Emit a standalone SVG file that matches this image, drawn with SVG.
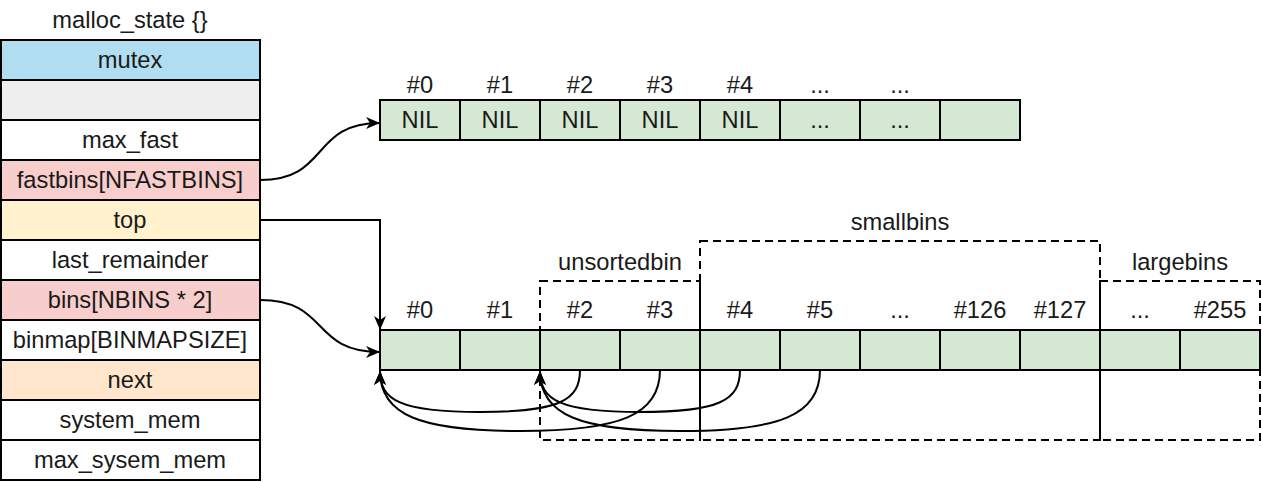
<svg xmlns="http://www.w3.org/2000/svg" width="1262" height="482" viewBox="0 0 1262 482">
<style>
text{font-family:"Liberation Sans",Arial,sans-serif;font-size:23.7px;fill:#1a1a1a;text-anchor:middle;dominant-baseline:central}
.row{stroke:#000;stroke-width:2}
.cell{fill:#d5e8d4;stroke:#000;stroke-width:2}
.dash{fill:none;stroke:#000;stroke-width:2;stroke-dasharray:8 5}
.edge{fill:none;stroke:#000;stroke-width:2}
</style>
<defs>
<marker id="arr" markerUnits="userSpaceOnUse" markerWidth="16" markerHeight="14" refX="14" refY="6" orient="auto">
<path d="M0,0 L14,6 L0,12 L4,6 Z" fill="#000"/>
</marker>
</defs>
<rect width="1262" height="482" fill="#fff"/>
<text x="130" y="20">malloc_state {}</text>
<g id="malloc_state">
<g id="mutex"><rect class="row" x="1" y="40" width="259" height="40" fill="#b1ddf0"/><text x="130" y="60">mutex</text></g>
<g id="blank"><rect class="row" x="1" y="80" width="259" height="40" fill="#eeeeee"/></g>
<g id="max_fast"><rect class="row" x="1" y="120" width="259" height="40" fill="#fff"/><text x="130" y="140">max_fast</text></g>
<g id="fastbins"><rect class="row" x="1" y="160" width="259" height="40" fill="#f8cecc"/><text x="130" y="180">fastbins[NFASTBINS]</text></g>
<g id="top"><rect class="row" x="1" y="200" width="259" height="40" fill="#fff2cc"/><text x="130" y="220">top</text></g>
<g id="last_remainder"><rect class="row" x="1" y="240" width="259" height="40" fill="#fff"/><text x="130" y="260">last_remainder</text></g>
<g id="bins"><rect class="row" x="1" y="280" width="259" height="40" fill="#f8cecc"/><text x="130" y="300">bins[NBINS * 2]</text></g>
<g id="binmap"><rect class="row" x="1" y="320" width="259" height="40" fill="#fff"/><text x="130" y="340">binmap[BINMAPSIZE]</text></g>
<g id="next"><rect class="row" x="1" y="360" width="259" height="40" fill="#ffe6cc"/><text x="130" y="380">next</text></g>
<g id="system_mem"><rect class="row" x="1" y="400" width="259" height="40" fill="#fff"/><text x="130" y="420">system_mem</text></g>
<g id="max_sysem_mem"><rect class="row" x="1" y="440" width="259" height="40" fill="#fff"/><text x="130" y="460">max_sysem_mem</text></g>
</g>
<g id="fastbins_array">
<rect class="cell" x="380" y="100" width="80" height="40"/><text x="420" y="120">NIL</text>
<rect class="cell" x="460" y="100" width="80" height="40"/><text x="500" y="120">NIL</text>
<rect class="cell" x="540" y="100" width="80" height="40"/><text x="580" y="120">NIL</text>
<rect class="cell" x="620" y="100" width="80" height="40"/><text x="660" y="120">NIL</text>
<rect class="cell" x="700" y="100" width="80" height="40"/><text x="740" y="120">NIL</text>
<rect class="cell" x="780" y="100" width="80" height="40"/><text x="820" y="120">...</text>
<rect class="cell" x="860" y="100" width="80" height="40"/><text x="900" y="120">...</text>
<rect class="cell" x="940" y="100" width="80" height="40"/>
<text x="420" y="85">#0</text><text x="500" y="85">#1</text><text x="580" y="85">#2</text><text x="660" y="85">#3</text><text x="740" y="85">#4</text><text x="820" y="85">...</text><text x="900" y="85">...</text>
</g>
<g id="groups">
<rect class="dash" x="700" y="241" width="400" height="199"/>
<rect class="dash" x="540" y="281" width="160" height="159"/>
<rect class="dash" x="1100" y="281" width="160" height="159"/>
<line x1="700" y1="281" x2="700" y2="440" stroke="#000" stroke-width="2"/>
<line x1="1100" y1="281" x2="1100" y2="440" stroke="#000" stroke-width="2"/>
<text x="900" y="222">smallbins</text>
<text x="620" y="262">unsortedbin</text>
<text x="1180" y="262">largebins</text>
</g>
<g id="bins_array">
<rect class="cell" x="380" y="330" width="80" height="40"/>
<rect class="cell" x="460" y="330" width="80" height="40"/>
<rect class="cell" x="540" y="330" width="80" height="40"/>
<rect class="cell" x="620" y="330" width="80" height="40"/>
<rect class="cell" x="700" y="330" width="80" height="40"/>
<rect class="cell" x="780" y="330" width="80" height="40"/>
<rect class="cell" x="860" y="330" width="80" height="40"/>
<rect class="cell" x="940" y="330" width="80" height="40"/>
<rect class="cell" x="1020" y="330" width="80" height="40"/>
<rect class="cell" x="1100" y="330" width="80" height="40"/>
<rect class="cell" x="1180" y="330" width="80" height="40"/>
<text x="420" y="310">#0</text><text x="500" y="310">#1</text><text x="580" y="310">#2</text><text x="660" y="310">#3</text><text x="740" y="310">#4</text><text x="820" y="310">#5</text><text x="900" y="310">...</text><text x="980" y="310">#126</text><text x="1060" y="310">#127</text><text x="1140" y="310">...</text><text x="1220" y="310">#255</text>
</g>
<g id="connectors">
<path class="edge" marker-end="url(#arr)" d="M260,180 C330,180 310,123 380,123"/>
<path class="edge" marker-end="url(#arr)" d="M260,220 L380,220 L380,330"/>
<path class="edge" marker-end="url(#arr)" d="M260,300 C330,300 310,352 380,352"/>
<path class="edge" marker-end="url(#arr)" d="M580,370 C580,400 560,412 480,412 C400,412 380,400 380,371"/>
<path class="edge" marker-end="url(#arr)" d="M660,370 C660,415 620,431 520,431 C420,431 380,415 380,371"/>
<path class="edge" marker-end="url(#arr)" d="M740,370 C740,400 720,412 640,412 C560,412 540,400 540,371"/>
<path class="edge" marker-end="url(#arr)" d="M820,370 C820,415 780,431 680,431 C580,431 540,415 540,371"/>
</g>
</svg>
